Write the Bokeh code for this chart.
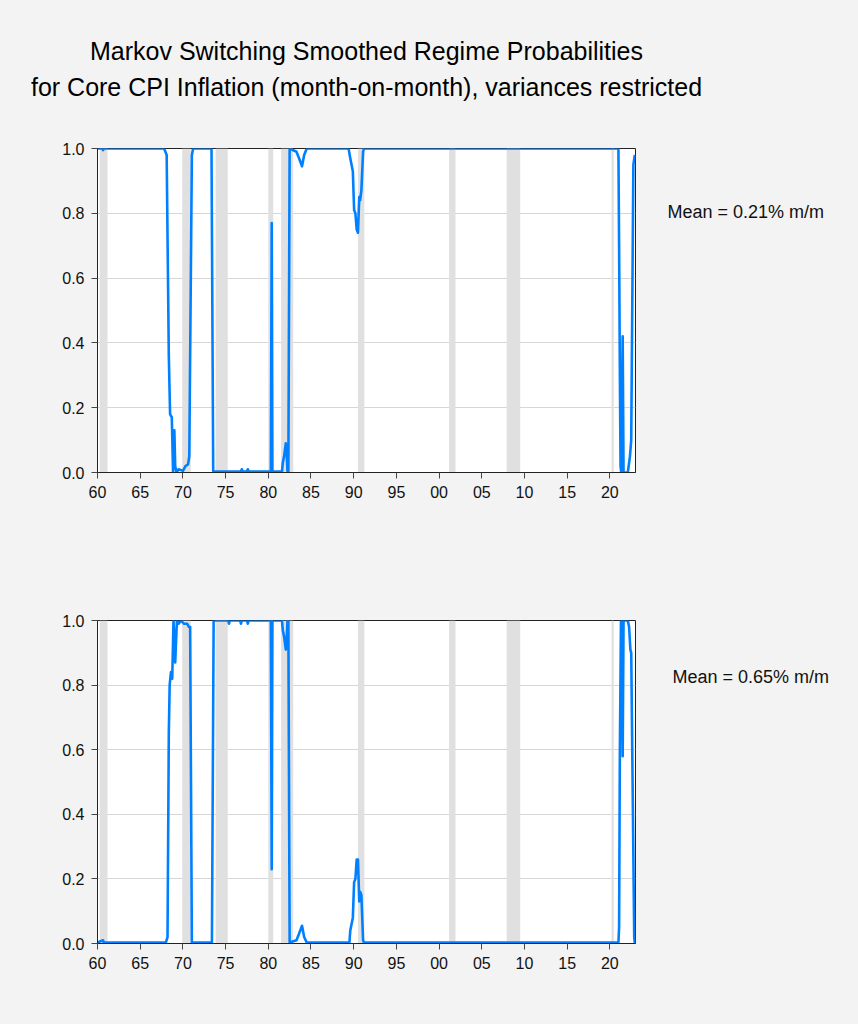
from bokeh.plotting import figure
from bokeh.models import Range1d, FixedTicker, NumeralTickFormatter
from bokeh.layouts import column, row
from bokeh.core.properties import value
from bokeh.embed import file_html
from bokeh.resources import INLINE

# ---------------- data ----------------
x_ticks = [1960, 1965, 1970, 1975, 1980, 1985, 1990, 1995, 2000, 2005, 2010, 2015, 2020]
x_tick_labels = ["60", "65", "70", "75", "80", "85", "90", "95", "00", "05", "10", "15", "20"]
y_ticks = [0.0, 0.2, 0.4, 0.6, 0.8, 1.0]

rec_start = [1960.25, 1969.92, 1973.83, 1980.00, 1981.50, 1990.50, 2001.17, 2007.92, 2020.20]
rec_end = [1961.17, 1970.92, 1975.25, 1980.58, 1982.92, 1991.25, 2001.92, 2009.50, 2020.45]

# regime 1 (low-inflation) smoothed probability
top_t = [1960.00, 1960.55, 1960.65, 1960.75, 1967.80, 1968.10, 1968.35, 1968.50, 1968.70, 1968.85,
         1969.00, 1969.10, 1969.25, 1969.50, 1970.00, 1970.30, 1970.60, 1970.75, 1971.05, 1971.20,
         1973.35, 1973.55, 1976.80, 1976.90, 1977.00, 1977.50, 1977.60, 1977.70, 1980.30, 1980.40,
         1980.48, 1981.60, 1981.70, 1981.85, 1982.05, 1982.15, 1982.25, 1982.35, 1982.50, 1983.30,
         1983.60, 1983.95, 1984.20, 1984.50, 1989.40, 1989.60, 1989.90, 1990.05, 1990.20, 1990.35,
         1990.50, 1990.65, 1990.75, 1990.90, 1991.10, 1991.20, 2021.00, 2021.08, 2021.17, 2021.25,
         2021.33, 2021.50, 2021.60, 2022.10, 2022.35, 2022.50, 2022.75, 2022.92]
top_v = [1.0, 1.0, 0.995, 1.0, 1.0, 0.98, 0.36, 0.18, 0.17, 0.0,
         0.13, 0.02, 0.0, 0.01, 0.005, 0.02, 0.025, 0.05, 0.98, 1.0,
         1.0, 0.003, 0.003, 0.01, 0.003, 0.003, 0.01, 0.003, 0.003, 0.77,
         0.003, 0.003, 0.03, 0.05, 0.09, 0.06, 0.003, 0.003, 1.0, 0.99,
         0.97, 0.945, 0.98, 1.0, 1.0, 0.97, 0.93, 0.81, 0.80, 0.75,
         0.74, 0.85, 0.84, 0.87, 0.99, 1.0, 1.0, 0.70, 0.30, 0.02,
         0.0, 0.42, 0.0, 0.0, 0.05, 0.10, 0.95, 0.98]

# regime 2 (high-inflation) smoothed probability
bot_t = [1960.00, 1960.65, 1960.75, 1968.00, 1968.20, 1968.35, 1968.45, 1968.60, 1968.75, 1968.90,
         1969.10, 1969.30, 1969.50, 1969.80, 1970.10, 1970.50, 1970.70, 1970.85, 1971.05, 1973.40,
         1973.60, 1975.30, 1975.40, 1975.50, 1976.70, 1976.80, 1976.90, 1977.50, 1977.60, 1977.70,
         1980.30, 1980.40, 1980.48, 1981.60, 1981.70, 1981.85, 1982.05, 1982.15, 1982.25, 1982.35,
         1982.50, 1983.30, 1983.60, 1983.95, 1984.20, 1984.50, 1989.50, 1989.60, 1989.90, 1990.05,
         1990.20, 1990.35, 1990.50, 1990.65, 1990.75, 1990.90, 1991.10, 1991.20, 2021.00, 2021.08,
         2021.17, 2021.30, 2021.42, 2021.50, 2021.60, 2022.10, 2022.25, 2022.40, 2022.50, 2022.85,
         2022.92]
bot_v = [0.003, 0.01, 0.003, 0.003, 0.02, 0.65, 0.80, 0.84, 0.82, 1.0,
         0.87, 1.0, 0.99, 1.0, 0.99, 0.99, 0.98, 0.98, 0.003, 0.003,
         1.0, 1.0, 0.99, 1.0, 1.0, 0.99, 1.0, 1.0, 0.99, 1.0,
         1.0, 0.23, 1.0, 1.0, 0.97, 0.95, 0.91, 0.94, 1.0, 1.0,
         0.003, 0.01, 0.03, 0.055, 0.02, 0.003, 0.003, 0.04, 0.08, 0.19,
         0.20, 0.26, 0.26, 0.13, 0.16, 0.15, 0.01, 0.003, 0.003, 0.05,
         0.60, 1.0, 1.0, 0.58, 1.0, 1.0, 0.98, 0.91, 0.90, 0.02,
         0.0]

title_lines = ["Markov Switching Smoothed Regime Probabilities",
               "for Core CPI Inflation (month-on-month), variances restricted"]
mean_top = ["Mean = 0.21% m/m"]
mean_bot = ["Mean = 0.65% m/m"]

# ---------------- styling ----------------
BG = "#f3f3f3"
FONT = "Liberation Sans"
LINE = "#0080ff"
SHADE = "#e0e0e0"
MAIN_W = 637      # frame 97..635 on the page
SIDE_W = 210
TOTAL_W = MAIN_W + SIDE_W


def blank(width, height, xr, yr, top=0, bottom=0):
    f = figure(width=width, height=height, x_range=xr, y_range=yr,
               x_axis_type=None, y_axis_type=None,
               output_backend="svg", toolbar_location=None,
               min_border_left=0, min_border_right=0,
               min_border_top=top, min_border_bottom=bottom)
    f.background_fill_color = BG
    f.border_fill_color = BG
    f.outline_line_color = None
    f.xgrid.visible = False
    f.ygrid.visible = False
    return f


def make_panel(t, v, height, top_border, bottom_border):
    p = figure(width=MAIN_W, height=height, x_range=Range1d(1960, 2023), y_range=Range1d(0, 1),
               output_backend="svg", toolbar_location=None,
               min_border_left=97, min_border_right=2,
               min_border_top=top_border, min_border_bottom=bottom_border)
    p.background_fill_color = "white"
    p.border_fill_color = BG
    p.outline_line_color = "#222222"
    p.outline_line_width = 1
    p.xgrid.visible = False
    p.ygrid.grid_line_color = "#d6d6d6"
    p.ygrid.grid_line_width = 1

    p.xaxis.ticker = FixedTicker(ticks=x_ticks)
    p.xaxis.major_label_overrides = {k: s for k, s in zip(x_ticks, x_tick_labels)}
    p.yaxis.ticker = FixedTicker(ticks=y_ticks)
    p.yaxis.formatter = NumeralTickFormatter(format="0.0")
    for ax in (p.xaxis, p.yaxis):
        ax.axis_line_color = "#222222"
        ax.major_tick_line_color = "#444444"
        ax.major_tick_in = 0
        ax.major_tick_out = 6
        ax.minor_tick_line_color = None
        ax.major_label_text_font = FONT
        ax.major_label_text_font_size = "16px"
        ax.major_label_text_color = "#111111"
        ax.major_label_standoff = 7

    p.quad(left=rec_start, right=rec_end, bottom=0, top=1, fill_color=SHADE,
           line_color=None)
    p.line(t, v, line_color=LINE, line_width=2.6, line_join="round")
    return p


# title strip: frame covers the whole strip, coordinates are page pixels
pt = blank(TOTAL_W, 110, Range1d(0, TOTAL_W), Range1d(110, 0))
pt.text(x=[366, 366], y=[50, 86], text=title_lines, text_font=value(FONT),
        text_font_size="25px", text_color="#000000", text_align="center",
        text_baseline="middle")

# upper panel + its side note
p1 = make_panel(top_t, top_v, 418, 38, 56)
m1 = blank(SIDE_W, 418, Range1d(MAIN_W, TOTAL_W), Range1d(0, 1), top=38, bottom=56)
m1.text(x=[667], y=[0.805], text=mean_top, text_font=value(FONT), text_font_size="18px",
        text_color="#111111", text_align="left", text_baseline="middle")

# lower panel + its side note
p2 = make_panel(bot_t, bot_v, 480, 92, 65)
m2 = blank(SIDE_W, 480, Range1d(MAIN_W, TOTAL_W), Range1d(0, 1), top=92, bottom=65)
m2.text(x=[672], y=[0.824], text=mean_bot, text_font=value(FONT), text_font_size="18px",
        text_color="#111111", text_align="left", text_baseline="middle")

layout = column(pt, row(p1, m1, spacing=0), row(p2, m2, spacing=0), spacing=0)
layout.styles = {"background-color": BG}

html = file_html(layout, INLINE, title="Markov Switching Smoothed Regime Probabilities")
html = html.replace("</head>", "<style>html, body { background-color: %s; }</style></head>" % BG, 1)
open("out.html", "w").write(html)
